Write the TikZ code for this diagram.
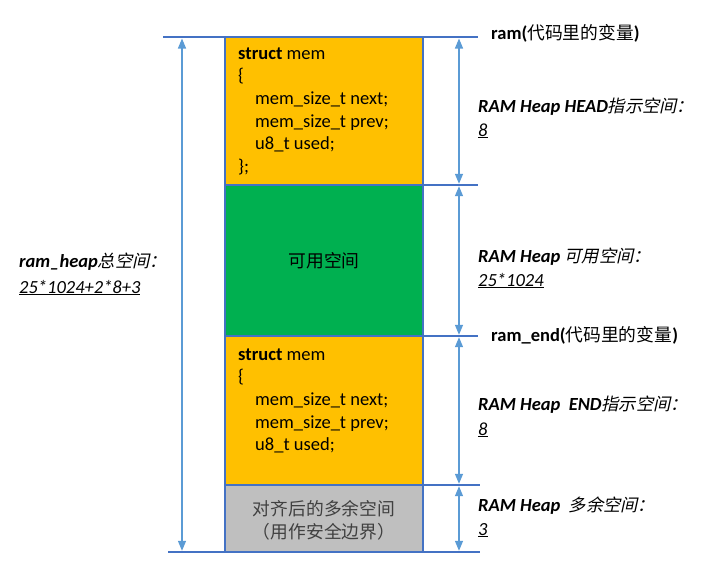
\documentclass[tikz,border=0pt]{standalone}
\usepackage{fontspec}
\setmainfont{Carlito}
\newfontfamily\cjkf{Noto Sans CJK SC}[Scale=0.96]
\newfontfamily\cjkslf{Noto Sans CJK SC}[Scale=0.93,AutoFakeSlant=0.22]
\newcommand\zh[1]{{\cjkf\mdseries\upshape #1}}
\newcommand\zhs[1]{{\cjkslf\mdseries\itshape #1}}
\usetikzlibrary{arrows.meta}
\definecolor{hblue}{HTML}{4472C4}
\definecolor{ablue}{HTML}{5B9BD5}
\definecolor{borange}{HTML}{FFC000}
\definecolor{bgreen}{HTML}{00B050}
\definecolor{bgray}{HTML}{BFBFBF}
\begin{document}
\begin{tikzpicture}[x=1pt,y=-1pt,
  blk/.style={draw=hblue, line width=1.6pt, minimum width=198pt, anchor=north west, inner sep=0pt, outer sep=0pt},
  hline/.style={draw=hblue, line width=2.6pt},
  arr/.style={draw=ablue, line width=1.3pt, {Triangle[width=8pt,length=10pt]}-{Triangle[width=8pt,length=10pt]}},
  txt/.style={anchor=base west, inner sep=0pt, font=\fontsize{18.5}{22.6}\selectfont},
  lbl/.style={anchor=base west, inner sep=0pt, font=\fontsize{18.5}{22.6}\selectfont\bfseries\itshape},
  num/.style={anchor=base west, inner sep=0pt, font=\fontsize{18.5}{22.6}\selectfont\itshape},
  ctr/.style={anchor=base, inner sep=0pt, font=\fontsize{18.5}{22.6}\selectfont}]
\useasboundingbox (0,0) rectangle (702,563);

% memory blocks
\node[blk, fill=borange, minimum height=148pt] (head) at (225,37) {};
\node[blk, fill=bgreen, minimum height=151pt] (free) at (225,185) {};
\node[blk, fill=borange, minimum height=149pt] (tail) at (225,336) {};
\node[blk, fill=bgray, minimum height=67pt] (pad) at (225,485) {};

% horizontal boundary lines
\coordinate (t0) at (163,37);  \coordinate (t1) at (478,37);
\coordinate (e1) at (478,185);
\coordinate (e2) at (478,336);
\coordinate (e3) at (480,485);
\coordinate (b0) at (168,552); \coordinate (b1) at (480,552);
\draw[hline] (t0) -- (t1);
\draw[hline] (head.south east) -- (e1);
\draw[hline] (free.south east) -- (e2);
\draw[hline] (tail.south east) -- (e3);
\draw[hline] (b0) -- (b1);

% dimension arrows
\coordinate (l0) at (182,38.5); \coordinate (l1) at (182,550.8);
\draw[arr] (l0) -- (l1);
\coordinate (r0) at (459,38.5);  \coordinate (r1) at (459,183.8);
\coordinate (r2) at (459,186.2); \coordinate (r3) at (459,334.8);
\coordinate (r4) at (459,337.2); \coordinate (r5) at (459,483.8);
\coordinate (r6) at (459,486.2); \coordinate (r7) at (459,550.8);
\draw[arr] (r0) -- (r1);
\draw[arr] (r2) -- (r3);
\draw[arr] (r4) -- (r5);
\draw[arr] (r6) -- (r7);

% struct text (head)
\node[txt] (h1) at (238,59) {\textbf{struct} mem};
\node[txt] (h2) at (238,81.7) {\{};
\node[txt] (h3) at (255,104.4) {mem\_size\_t next;};
\node[txt] (h4) at (255,127) {mem\_size\_t prev;};
\node[txt] (h5) at (255,149.8) {u8\_t used;};
\node[txt] (h6) at (238,172.5) {\};};

% free text
\node[ctr] (f1) at (324,267) {\zh{可用空间}};

% struct text (tail)
\node[txt] (s1) at (238,360) {\textbf{struct} mem};
\node[txt] (s2) at (238,382.7) {\{};
\node[txt] (s3) at (255,405.4) {mem\_size\_t next;};
\node[txt] (s4) at (255,428) {mem\_size\_t prev;};
\node[txt] (s5) at (255,450.8) {u8\_t used;};

% padding text
\node[ctr, text=black!75] (p1) at (324,515) {\zh{对齐后的多余空间}};
\node[ctr, text=black!75] (p2) at (324,538.5) {\zh{（用作安全边界）}};

% right variable labels
\node[txt, font=\fontsize{18.5}{22.6}\selectfont\bfseries] (v1) at (491,39.5) {ram(\zh{代码里的变量})};
\node[txt, font=\fontsize{18.5}{22.6}\selectfont\bfseries] (v2) at (491,341.5) {ram\_end(\zh{代码里的变量})};

% right size labels
\node[lbl] (a1) at (478,112) {RAM Heap HEAD\zhs{指示空间：}};
\node[num] (a2) at (478,136) {\underline{8}};
\node[lbl] (b1l) at (478,262) {RAM Heap \zhs{可用空间：}};
\node[num] (b2l) at (478,286) {\underline{25*1024}};
\node[lbl] (c1) at (478,410) {RAM Heap\ \ END\zhs{指示空间：}};
\node[num] (c2) at (478,435) {\underline{8}};
\node[lbl] (d1) at (478,511) {RAM Heap\ \ \zhs{多余空间：}};
\node[num] (d2) at (478,535) {\underline{3}};

% left total label
\node[lbl] (g1) at (19,267) {ram\_heap\zhs{总空间：}};
\node[num] (g2) at (19,293) {\underline{25*1024+2*8+3}};
\end{tikzpicture}
\end{document}
